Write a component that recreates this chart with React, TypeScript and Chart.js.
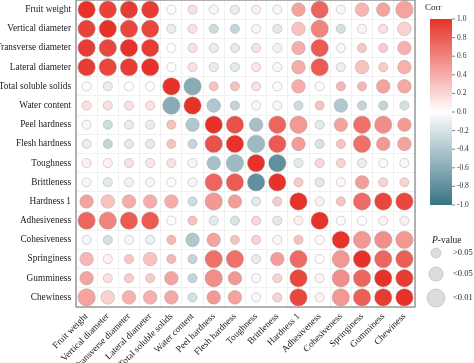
import React, { useEffect, useRef } from "react";
import { Chart, registerables } from "chart.js";

Chart.register(...registerables);

const variables = [
  "Fruit weight",
  "Vertical diameter",
  "Transverse diameter",
  "Lateral diameter",
  "Total soluble solids",
  "Water content",
  "Peel hardness",
  "Flesh hardness",
  "Toughness",
  "Brittleness",
  "Hardness 1",
  "Adhesiveness",
  "Cohesiveness",
  "Springiness",
  "Gumminess",
  "Chewiness",
];

// correlation matrix (rows in the order of `variables`)
const corrRows: number[][] = [
  [1, 0.92, 0.95, 0.95, 0.02, 0.15, -0.05, -0.12, 0.08, -0.05, 0.45, 0.75, -0.05, 0.35, 0.45, 0.45],
  [0.92, 1, 0.9, 0.9, -0.12, 0.15, -0.25, -0.3, 0.06, -0.15, 0.3, 0.6, -0.22, 0.06, 0.15, 0.22],
  [0.95, 0.9, 1, 0.95, 0.0, 0.15, -0.12, -0.15, 0.15, -0.08, 0.4, 0.8, -0.05, 0.28, 0.25, 0.38],
  [0.95, 0.9, 0.95, 1, 0.0, 0.15, -0.12, -0.15, 0.12, -0.05, 0.4, 0.8, -0.1, 0.3, 0.25, 0.38],
  [0.02, -0.12, 0.0, 0.0, 1, -0.6, 0.3, 0.3, 0.15, 0.02, 0.4, 0.02, 0.35, 0.35, 0.45, 0.42],
  [0.15, 0.15, 0.15, 0.15, -0.6, 1, -0.4, -0.3, -0.05, -0.06, -0.25, 0.3, -0.4, -0.3, -0.3, -0.22],
  [-0.05, -0.25, -0.12, -0.12, 0.3, -0.4, 1, 0.85, -0.45, 0.75, 0.5, -0.15, 0.45, 0.7, 0.55, 0.5],
  [-0.12, -0.3, -0.15, -0.15, 0.3, -0.3, 0.85, 1, -0.5, 0.8, 0.48, -0.2, 0.3, 0.7, 0.5, 0.45],
  [0.08, 0.06, 0.15, 0.12, 0.15, -0.05, -0.45, -0.5, 1, -0.8, -0.15, 0.2, 0.22, -0.12, -0.04, -0.04],
  [-0.05, -0.15, -0.08, -0.05, 0.02, -0.06, 0.75, 0.8, -0.8, 1, 0.25, -0.15, 0.05, 0.48, 0.22, 0.22],
  [0.45, 0.3, 0.4, 0.4, 0.4, -0.25, 0.5, 0.48, -0.15, 0.25, 1, 0.08, 0.3, 0.72, 0.9, 0.9],
  [0.75, 0.6, 0.8, 0.8, 0.02, 0.3, -0.15, -0.2, 0.2, -0.15, 0.08, 1, 0.03, 0.0, 0.06, 0.07],
  [-0.05, -0.22, -0.05, -0.1, 0.35, -0.4, 0.45, 0.3, 0.22, 0.05, 0.3, 0.03, 1, 0.5, 0.55, 0.5],
  [0.35, 0.06, 0.28, 0.3, 0.35, -0.3, 0.7, 0.7, -0.12, 0.48, 0.72, 0.0, 0.5, 1, 0.75, 0.78],
  [0.45, 0.15, 0.25, 0.25, 0.45, -0.3, 0.55, 0.5, -0.04, 0.22, 0.9, 0.06, 0.55, 0.75, 1, 0.95],
  [0.45, 0.22, 0.38, 0.38, 0.42, -0.22, 0.5, 0.45, -0.04, 0.22, 0.9, 0.07, 0.5, 0.78, 0.95, 1],
];

// significance level per cell: 0 = p>0.05, 1 = p<0.05, 2 = p<0.01
const pLevelRows: number[][] = [
  [2, 2, 2, 2, 0, 0, 0, 0, 0, 0, 1, 2, 0, 1, 1, 2],
  [2, 2, 2, 2, 0, 0, 0, 0, 0, 0, 1, 2, 0, 0, 0, 1],
  [2, 2, 2, 2, 0, 0, 0, 0, 0, 0, 1, 2, 0, 0, 0, 1],
  [2, 2, 2, 2, 0, 0, 0, 0, 0, 0, 1, 2, 0, 1, 0, 1],
  [0, 0, 0, 0, 2, 2, 0, 0, 0, 0, 1, 0, 0, 0, 1, 1],
  [0, 0, 0, 0, 2, 2, 1, 0, 0, 0, 0, 0, 1, 0, 0, 0],
  [0, 0, 0, 0, 0, 1, 2, 2, 1, 2, 2, 0, 1, 2, 2, 1],
  [0, 0, 0, 0, 0, 0, 2, 2, 2, 2, 1, 0, 0, 2, 1, 1],
  [0, 0, 0, 0, 0, 0, 1, 2, 2, 2, 0, 0, 0, 0, 0, 0],
  [0, 0, 0, 0, 0, 0, 2, 2, 2, 2, 0, 0, 0, 1, 0, 0],
  [1, 1, 1, 1, 1, 0, 2, 1, 0, 0, 2, 0, 0, 2, 2, 2],
  [2, 2, 2, 2, 0, 0, 0, 0, 0, 0, 0, 2, 0, 0, 0, 0],
  [0, 0, 0, 0, 0, 1, 1, 0, 0, 0, 0, 0, 2, 2, 2, 2],
  [1, 0, 0, 1, 0, 0, 2, 2, 0, 1, 2, 0, 2, 2, 2, 2],
  [1, 0, 0, 0, 1, 0, 2, 1, 0, 0, 2, 0, 2, 2, 2, 2],
  [2, 1, 1, 1, 1, 0, 1, 1, 0, 0, 2, 0, 2, 2, 2, 2],
];

const colorbarTicks = [1.0, 0.8, 0.6, 0.4, 0.2, 0.0, -0.2, -0.4, -0.6, -0.8, -1.0];
const pLegendLabels = [">0.05", "<0.05", "<0.01"];
const pLegendLevels = [0, 1, 2];

const RADII = [4.6, 6.8, 8.7];
const RED = [230, 50, 40];
const TEAL = [56, 116, 132];

function corrColor(v: number): string {
  const t = Math.min(1, Math.abs(v));
  const end = v >= 0 ? RED : TEAL;
  const c = end.map((e) => Math.round(255 + (e - 255) * t));
  return `rgb(${c[0]},${c[1]},${c[2]})`;
}

const SERIF = "'Liberation Serif', 'Times New Roman', serif";

const legendPlugin = {
  id: "corrLegend",
  afterDraw(chart: any) {
    const ctx: CanvasRenderingContext2D = chart.ctx;
    const area = chart.chartArea;
    ctx.save();
    // panel border
    ctx.strokeStyle = "#8c8c8c";
    ctx.lineWidth = 1.3;
    ctx.strokeRect(area.left, area.top, area.right - area.left, area.bottom - area.top);

    // Corr colorbar
    const bx = 430;
    const bw = 22;
    const by = 19;
    const bh = 186;
    ctx.fillStyle = "#222";
    ctx.font = `9px ${SERIF}`;
    ctx.textAlign = "left";
    ctx.textBaseline = "middle";
    ctx.fillText("Corr", 425, 8);

    const grad = ctx.createLinearGradient(0, by, 0, by + bh);
    for (let k = 0; k <= 40; k++) {
      const v = 1 - (2 * k) / 40;
      grad.addColorStop(k / 40, corrColor(v));
    }
    ctx.fillStyle = grad;
    ctx.fillRect(bx, by, bw, bh);

    ctx.strokeStyle = "#666";
    ctx.lineWidth = 0.8;
    ctx.fillStyle = "#333";
    ctx.font = `7.5px ${SERIF}`;
    colorbarTicks.forEach((v) => {
      const y = by + ((1 - v) / 2) * bh;
      ctx.beginPath();
      ctx.moveTo(bx + bw, y);
      ctx.lineTo(bx + bw + 3, y);
      ctx.stroke();
      ctx.fillText(v.toFixed(1), bx + bw + 5, y);
    });

    // P-value legend
    ctx.fillStyle = "#222";
    ctx.font = `italic 9.5px ${SERIF}`;
    const px = 432;
    ctx.fillText("P", px, 240);
    const pw = ctx.measureText("P").width;
    ctx.font = `9.5px ${SERIF}`;
    ctx.fillText("-value", px + pw, 240);

    const ys = [253, 274, 298];
    pLegendLevels.forEach((lv, i) => {
      ctx.beginPath();
      ctx.arc(436, ys[i], RADII[lv] + 0.3, 0, Math.PI * 2);
      ctx.fillStyle = "#dcdcdc";
      ctx.fill();
      ctx.strokeStyle = "#c2c2c2";
      ctx.lineWidth = 0.8;
      ctx.stroke();
      ctx.fillStyle = "#222";
      ctx.font = `8.5px ${SERIF}`;
      ctx.fillText(pLegendLabels[i], 453, ys[i]);
    });
    ctx.restore();
  },
};

export default function App() {
  const canvasRef = useRef<HTMLCanvasElement | null>(null);

  useEffect(() => {
    if (!canvasRef.current) return;
    const points: any[] = [];
    const colors: string[] = [];
    corrRows.forEach((row, i) => {
      row.forEach((v, j) => {
        points.push({ x: variables[j], y: variables[i], r: RADII[pLevelRows[i][j]] });
        colors.push(corrColor(v));
      });
    });

    const tickFont = { family: SERIF, size: 9.3 };
    const chart = new Chart(canvasRef.current, {
      type: "bubble",
      data: {
        datasets: [
          {
            data: points,
            backgroundColor: colors,
            borderColor: "rgba(160,160,160,0.55)",
            borderWidth: 0.8,
            clip: false,
          },
        ],
      },
      options: {
        animation: false,
        responsive: false,
        events: [],
        layout: { autoPadding: false, padding: { left: 0, right: 59, top: 0, bottom: 0 } },
        plugins: { legend: { display: false }, tooltip: { enabled: false } },
        scales: {
          x: {
            type: "category",
            labels: variables,
            offset: true,
            position: "bottom",
            grid: { offset: true, color: "#ededed", lineWidth: 0.8, drawTicks: false },
            border: { display: false },
            ticks: {
              font: tickFont,
              color: "#1a1a1a",
              minRotation: 45,
              maxRotation: 45,
              autoSkip: false,
              padding: 4,
            },
            afterFit: (s: any) => {
              s.height = 56;
              s.paddingLeft = 0;
              s.paddingRight = 0;
            },
          },
          y: {
            type: "category",
            labels: variables,
            offset: true,
            grid: { offset: true, color: "#ededed", lineWidth: 0.8, drawTicks: false },
            border: { display: false },
            ticks: { font: tickFont, color: "#1a1a1a", autoSkip: false, padding: 5 },
            afterFit: (s: any) => {
              s.width = 76;
              s.paddingTop = 0;
              s.paddingBottom = 0;
            },
          },
        },
      } as any,
      plugins: [legendPlugin],
    });
    return () => chart.destroy();
  }, []);

  return (
    <div style={{ position: "absolute", left: 0, top: 0, width: 474, height: 363, background: "#fff" }}>
      <canvas ref={canvasRef} width={474} height={363} style={{ display: "block" }} />
    </div>
  );
}
